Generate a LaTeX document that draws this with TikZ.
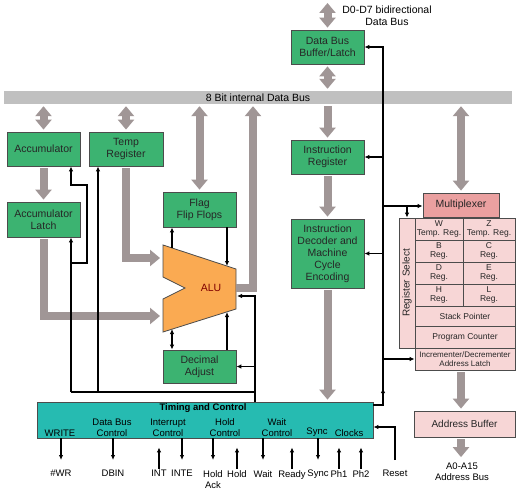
\documentclass[tikz,border=0pt]{standalone}
\usepackage{fontspec}
\setmainfont{Liberation Sans}
\usetikzlibrary{arrows.meta}

\definecolor{boxgreen}{RGB}{60,179,113}
\definecolor{timingteal}{RGB}{38,187,177}
\definecolor{aluorange}{RGB}{250,170,82}
\definecolor{muxpink}{RGB}{234,160,160}
\definecolor{regpink}{RGB}{247,214,214}
\definecolor{busgray}{RGB}{192,192,192}
\definecolor{fatgray}{RGB}{160,150,150}

\begin{document}
\begin{tikzpicture}[
        x=1pt, y=-1pt,
        box/.style={draw=black!70, line width=0.8pt, inner sep=1pt, align=center,
            text=black!85, font=\fontsize{10.5}{12}\selectfont},
        greenbox/.style={box, fill=boxgreen},
        regcell/.style={box, fill=regpink, font=\fontsize{8.5}{9.5}\selectfont},
        fat/.style={line width=8pt, draw=fatgray, shorten <=2pt, shorten >=2pt},
        fatto/.style={fat, -{Triangle[width=16pt,length=10pt]}},
        fatboth/.style={fat, {Triangle[width=16pt,length=10pt]}-{Triangle[width=16pt,length=10pt]}},
        wire/.style={line width=1.3pt},
        wireto/.style={wire, -{Latex[length=5pt,width=4.5pt]}},
        wireboth/.style={wire, {Latex[length=5pt,width=4.5pt]}-{Latex[length=5pt,width=4.5pt]}},
        sigout/.style={wireto, shorten >=9pt},
        sigin/.style={wire, {Latex[length=5pt,width=4.5pt]}-, shorten <=9pt},
        siglabel/.style={font=\fontsize{9.5}{11}\selectfont, align=center, inner sep=1pt},
    ]

    \fill[white] (0,0) rectangle (522,492);
    \useasboundingbox (0,0) rectangle (522,492);

    % internal data bus
    \node[fill=busgray, minimum width=508, minimum height=13, inner sep=0,
        font=\fontsize{10.5}{12}\selectfont] (bus) at (258,97.5) {8 Bit internal Data Bus};

    % blocks
    \node[greenbox, minimum width=73, minimum height=34] (acc) at (43.5,149) {Accumulator};
    \node[greenbox, minimum width=74, minimum height=34] (tmpreg) at (126,149) {Temp\\Register};
    \node[greenbox, minimum width=73, minimum height=35] (acclatch) at (43.5,219.5) {Accumulator\\Latch};
    \node[greenbox, minimum width=73, minimum height=35] (flag) at (199.5,209.5) {Flag\\Flip Flops};
    \node[greenbox, minimum width=73, minimum height=33] (decadj) at (199.5,366.5) {Decimal\\Adjust};
    \node[greenbox, minimum width=73, minimum height=34] (dbbuf) at (327.5,47) {Data Bus\\Buffer/Latch};
    \node[greenbox, minimum width=73, minimum height=34] (ireg) at (327.5,157) {Instruction\\Register};
    \node[greenbox, minimum width=73, minimum height=69] (idec) at (327.5,253.5)
        {Instruction\\Decoder and\\Machine\\Cycle\\Encoding};

    \node[align=center, font=\fontsize{10.5}{12}\selectfont] (dbtxt) at (387,16) {D0-D7 bidirectional\\Data Bus};

    % ALU
    \draw[fill=aluorange, draw=black!70, line width=0.8pt]
        (163,245) -- (236,269) -- (236,309) -- (163,332) -- (163,299) -- (185,288) -- (163,277) -- cycle;
    \node[text=red!50!black, font=\fontsize{10.5}{12}\selectfont] (alu) at (211,288) {ALU};

    % register array
    \node[box, fill=muxpink, minimum width=76, minimum height=24] (mux) at (461,205) {Multiplexer};
    \node[regcell, rotate=90, minimum width=130, minimum height=16,
        font=\fontsize{10}{11}\selectfont] (regsel) at (407,283) {Register Select};
    \foreach \lt/\rt [count=\i] in {W\\Temp. Reg./Z\\Temp. Reg., B\\Reg./C\\Reg., D\\Reg./E\\Reg., H\\Reg./L\\Reg.}
    {
        \pgfmathsetmacro\yy{207+22*\i}
        \node[regcell, minimum width=48, minimum height=22] (rl\i) at (439,\yy) {\lt};
        \node[regcell, minimum width=52, minimum height=22] (rr\i) at (489,\yy) {\rt};
    }
    \node[regcell, minimum width=100, minimum height=20] (sp) at (465,316) {Stack Pointer};
    \node[regcell, minimum width=100, minimum height=22] (pc) at (465,337) {Program Counter};
    \node[regcell, minimum width=100, minimum height=22,
        font=\fontsize{8}{9.5}\selectfont] (incdec) at (465,359) {Incrementer/Decrementer\\Address Latch};

    \node[box, fill=regpink, minimum width=101, minimum height=26,
        font=\fontsize{10}{12}\selectfont] (addrbuf) at (464.5,424) {Address Buffer};
    \node[align=center, font=\fontsize{9.5}{11}\selectfont] (abtxt) at (462,471.5) {A0-A15\\Address Bus};

    % timing and control
    \node[box, fill=timingteal, minimum width=336, minimum height=36] (timing) at (205,420) {};
    \node[font=\bfseries\fontsize{9.5}{11}\selectfont, inner sep=0] (ttitle) at (203,408) {Timing and Control};
    \foreach \x/\lbl/\n in {60/WRITE/write, 112/Data Bus\\Control/dbc, 168/Interrupt\\Control/intc,
        225/Hold\\Control/holdc, 277/Wait\\Control/waitc, 317/Sync/syncc, 349/Clocks/clk}
        \node[siglabel, anchor=south] (t\n) at (\x,437.5) {\lbl};

    % gray data paths
    \coordinate (dbtop) at (327.5,1);
    \draw[fatboth] (dbtop) -- (dbbuf.north);
    \draw[fatboth] (dbbuf.south) -- (bus.north -| dbbuf);
    \draw[fatto] (bus.south -| ireg) -- (ireg.north);
    \draw[fatto] (ireg.south) -- (idec.north);
    \draw[fatto] (idec.south) -- (timing.north -| idec);
    \draw[fatboth] (bus.south -| acc) -- (acc.north);
    \draw[fatboth] (bus.south -| tmpreg) -- (tmpreg.north);
    \draw[fatboth] (bus.south -| flag) -- (flag.north);
    \draw[fatto] (acc.south) -- (acclatch.north);
    \coordinate (aluhigh) at (163,258);
    \coordinate (alulow) at (163,316);
    \draw[fatto, shorten >=3pt] (tmpreg.south) |- (aluhigh);
    \draw[fatto, shorten >=3pt] (acclatch.south) |- (alulow);
    \coordinate (aluout) at (236,288);
    \coordinate (aluup) at (253,288);
    \draw[fatto, shorten <=0pt] (aluout) -- (aluup) -- (aluup |- bus.south);
    \draw[fatboth] (bus.south -| mux) -- (mux.north);
    \draw[fatto] (incdec.south -| mux) -- (addrbuf.north -| mux);
    \draw[fatto] (addrbuf.south -| mux) -- (abtxt.north -| mux);

    % ALU control lines
    \coordinate (fa) at (172,248);
    \coordinate (fb) at (227,266);
    \coordinate (da) at (172,329);
    \coordinate (db) at (227,312);
    \draw[wireto] (fa) -- (fa |- flag.south);
    \draw[wireto] (fb |- flag.south) -- (fb);
    \draw[wireboth] (da) -- (da |- decadj.north);
    \draw[wireto] (db |- decadj.north) -- (db);

    % control from timing, left side
    \coordinate (cl) at (255,392);
    \coordinate (ca) at (71,392);
    \coordinate (ct) at (98,392);
    \coordinate (cj) at (71,263);
    \coordinate (alur) at (237,296);
    \draw[wire] (timing.north -| cl) -- (cl) -- (ca);
    \draw[wireto] (cl) |- (alur);
    \draw[wireto] (cl |- decadj) -- (decadj.east);
    \draw[wireto] (ca) -- (acclatch.south -| ca);
    \draw[wireto] (cj) -- ++(16,0) -- ++(0,-78) -- ++(-16,0) -- (acc.south -| cj);
    \draw[wireto] (ct) -- (tmpreg.south -| ct);

    % control from timing, right side
    \coordinate (cr) at (383,405);
    \coordinate (cm) at (383,206);
    \coordinate (cs) at (407,206);
    \draw[wireto] (timing.east |- cr) -- (cr) |- (dbbuf.east);
    \draw[wireto] (cr) -- ++(0,-17);
    \draw[wireto] (cr |- ireg.east) -- (ireg.east);
    \draw[wireto] (cr |- idec.east) -- (idec.east);
    \draw[wireto] (cm) -- (cm -| mux.west);
    \draw[wireto] (cs) -- (cs |- rl1.north);
    \draw[wireto] (cr |- incdec) -- (incdec.west);

    % external signals
    \foreach \x/\lbl/\d/\n in {61/\#WR/sigout/wr, 113/DBIN/sigout/dbin, 159/INT/sigin/int,
        182/INTE/sigout/inte, 213/Hold\\Ack/sigout/hlda, 237/Hold/sigin/hold, 263/Wait/sigout/wait,
        292/Ready/sigin/ready, 318/Sync/sigout/sync, 339/Ph1/sigin/phone, 361/Ph2/sigin/phtwo}
    {
        \node[siglabel, anchor=north] (s\n) at (\x,469) {\lbl};
        \draw[\d] (timing.south -| s\n) -- (s\n.north);
    }
    \node[siglabel, anchor=north] (sreset) at (395,469) {Reset};
    \coordinate (rb) at (395,460);
    \coordinate (rs) at (395,427);
    \draw[wireto] (rb) -- (rs) -- (rs -| timing.east);
\end{tikzpicture}
\end{document}
